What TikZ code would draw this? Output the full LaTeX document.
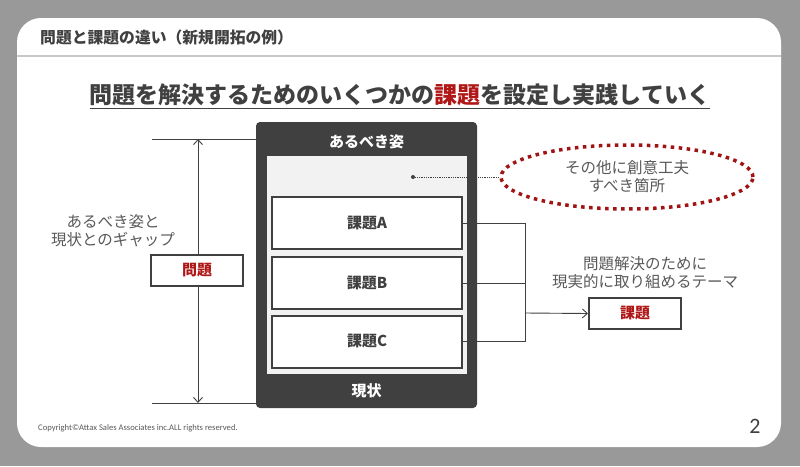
\documentclass[tikz,border=0pt]{standalone}
\usepackage{fontspec}
\setmainfont{Noto Sans CJK JP}
\newfontfamily\copyfont{Carlito}
\usetikzlibrary{arrows.meta,positioning,shapes.geometric}
\definecolor{slidegray}{HTML}{999999}
\definecolor{ink}{HTML}{404040}
\definecolor{softink}{HTML}{595959}
\definecolor{panelgray}{HTML}{F2F2F2}
\definecolor{rulegray}{HTML}{C8C8C8}
\definecolor{keyred}{HTML}{B01818}
\definecolor{dotred}{HTML}{A01414}
\tikzset{
    plain/.style ={
        inner sep=0pt,
        text=softink,
        font=\fontsize{15.5}{18}\selectfont,
        align=center
    },
    task/.style ={
        shape=rectangle,
        draw=ink,
        line width=2pt,
        fill=white,
        minimum width=190pt,
        minimum height=52pt,
        text=ink,
        font=\fontsize{15}{18}\selectfont\bfseries
    },
    keybox/.style ={
        shape=rectangle,
        draw=ink,
        line width=2pt,
        fill=white,
        minimum width=92pt,
        minimum height=31pt,
        text=keyred,
        font=\fontsize{15}{18}\selectfont\bfseries
    },
    thinline/.style ={
        draw=ink,
        line width=0.9pt
    }
}

\begin{document}
\begin{tikzpicture}[x=1pt,y=-1pt]
    \useasboundingbox (0,0) rectangle (800,466);
    \fill[slidegray] (0,0) rectangle (800,466);
    \fill[white,rounded corners=24pt] (17,18) rectangle (781,447);
    \draw[rulegray,line width=1.5pt] (17,56) -- (781,56);

    \node[plain,anchor=west,text=ink,font=\fontsize{15.8}{18}\selectfont\bfseries] (title) at(40,37)
        {問題と課題の違い（新規開拓の例）};
    \node[plain,text=ink,font=\fontsize{23}{26}\selectfont\bfseries] (head) at(400,95)
        {問題を解決するためのいくつかの\textcolor{keyred}{課題}を設定し実践していく};
    \draw[ink,line width=1.3pt] ([yshift=-5pt]head.base west) -- ([yshift=-5pt]head.base east);

    \node[fill=ink,rounded corners=4pt,minimum width=221pt,minimum height=286pt] (ideal) at(366.5,265) {};
    \node[fill=panelgray,minimum width=200pt,minimum height=218pt] (panel) at(367,265) {};
    \node[plain,text=white,font=\fontsize{15}{18}\selectfont\bfseries] (idealtxt) at(366.5,142) {あるべき姿};
    \node[plain,text=white,font=\fontsize{15}{18}\selectfont\bfseries] (nowtxt) at(366.5,391) {現状};
    \node[task] (A) at(367,223) {課題A};
    \node[task] (B) at(367,283) {課題B};
    \node[task] (C) at(367,341.5) {課題C};

    \node[circle,fill=ink,inner sep=0pt,minimum size=4pt] (spot) at(413,177) {};
    \node[ellipse,draw=dotred,line width=3.5pt,dash pattern=on 3.5pt off 4.5pt,
          minimum width=252pt,minimum height=64pt,plain] (extra) at(627,177)
        {その他に創意工夫\\すべき箇所};
    \draw[ink,densely dotted,line width=0.8pt] (spot) -- (extra.west);

    \coordinate (join) at(525,313);
    \node[keybox] (theme) at(635,313.5) {課題};
    \node[plain] (themetxt) at(645,273) {問題解決のために\\現実的に取り組めるテーマ};
    \draw[thinline] (A.east) -- (A.east -| join) -- (C.east -| join) -- (C.east);
    \draw[thinline] (B.east) -- (B.east -| join);
    \draw[thinline,-{Straight Barb[length=5pt,width=9pt]}] (join) -- (theme.west);

    \coordinate (topL) at(152,139);
    \coordinate (botL) at(152,403);
    \coordinate (topA) at(198,139);
    \coordinate (botA) at(198,403);
    \draw[thinline] (topL) -- (topL -| ideal.west);
    \draw[thinline] (botL) -- (botL -| ideal.west);
    \draw[thinline,{Straight Barb[length=5pt,width=9pt]}-{Straight Barb[length=5pt,width=9pt]}] (topA) -- (botA);
    \node[keybox] (gap) at(197,270) {問題};
    \node[plain] (gaptxt) at(113,231) {あるべき姿と\\現状とのギャップ};

    \node[anchor=west,inner sep=0pt,text=softink,font=\copyfont\fontsize{8.6}{10}\selectfont] (copy) at(38,428)
        {Copyright©Attax Sales Associates inc.ALL rights reserved.};
    \node[inner sep=0pt,text=ink,font=\copyfont\fontsize{22}{24}\selectfont] (page) at(755,426) {2};
\end{tikzpicture}
\end{document}
